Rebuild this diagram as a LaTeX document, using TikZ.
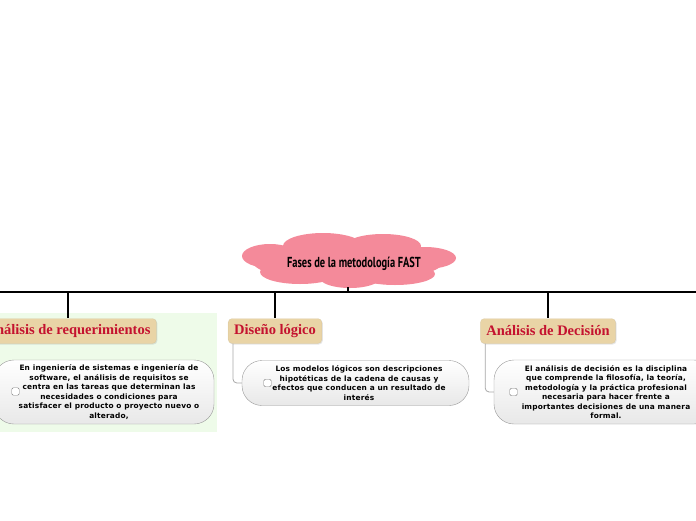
\documentclass[tikz,border=0pt]{standalone}
\usepackage{fontspec}
\setmainfont{Liberation Serif}
\newfontfamily\bodyfont[LetterSpace=2.5]{DejaVu Sans}
\newfontfamily\cloudfont{PT Sans}
\usetikzlibrary{positioning,shadows}
\definecolor{cloudpink}{HTML}{F48A9A}
\definecolor{tanbox}{HTML}{E9D4A6}
\definecolor{titlered}{HTML}{C4122F}
\definecolor{paleGreen}{HTML}{EEFBE9}
\tikzset{
  phase/.style={draw=tanbox!80!black, draw opacity=0.3, fill=tanbox, rounded corners=4pt,
    minimum height=25pt, inner xsep=6pt, font=\fontsize{14.5}{16}\selectfont\bfseries, text=titlered,
    drop shadow={opacity=0.2, shadow xshift=1pt, shadow yshift=-1pt}},
  note/.style={draw=gray!80, rounded corners=20pt, top color=white, bottom color=gray!18},
  notetext/.style={font=\bodyfont\bfseries\fontsize{7.4}{9.5}\selectfont, align=center},
  tick/.style={draw=gray, rounded corners=1.5pt, minimum size=7.5pt, inner sep=0pt, fill=white},
  link/.style={draw=gray!70, line width=0.8pt, rounded corners=4pt},
  trunk/.style={line width=1.6pt}
}
\begin{document}
\begin{tikzpicture}[x=1pt,y=-1pt]
  \useasboundingbox (0,0) rectangle (696,520);
  \fill[paleGreen] (0,313) rectangle (217,432);
  % cloud
  \begin{scope}[cloudpink]
    \fill (348,262) ellipse (95 and 20);
    \fill (323,246) ellipse (40 and 13);
    \fill (383,246) ellipse (38 and 12);
    \fill (270,256) ellipse (28 and 12);
    \fill (425,258) ellipse (31 and 11);
    \fill (300,272) ellipse (40 and 12);
    \fill (395,274) ellipse (40 and 11);
    \fill (350,278) ellipse (30 and 10);
  \end{scope}
  \node (root) at (354,264) {\cloudfont\bfseries\fontsize{14.5}{16}\selectfont\scalebox{0.72}[1]{Fases de la metodología FAST}};
  % trunk
  \coordinate (tl) at (0,292);
  \coordinate (tr) at (696,292);
  \draw[trunk] (tl) -- (tr);
  \draw[trunk] (348,287) -- (348,292);
  % phases
  \node[phase] (req) at (68,331) {Análisis de requerimientos};
  \node[phase] (dis) at (275,331) {Diseño lógico};
  \node[phase] (dec) at (548,331) {Análisis de Decisión};
  \foreach \n in {req,dis,dec}
    \draw[trunk] (\n.north |- tl) -- (\n.north);
  % notes
  \node[note, minimum width=220pt, minimum height=64pt] (reqtxt) at (104,392) {};
  \node[note, minimum width=227pt, minimum height=45pt] (distxt) at (355.5,383) {};
  \node[note, minimum width=220pt, minimum height=64pt] (dectxt) at (604,392) {};
  \node[notetext] at (109,392)
    {En ingeniería de sistemas e ingeniería de\\ software, el análisis de requisitos se\\ centra en las tareas que determinan las\\ necesidades o condiciones para\\ satisfacer el producto o proyecto nuevo o\\ alterado,};
  \node[notetext] at (359,383)
    {Los modelos lógicos son descripciones\\ hipotéticas de la cadena de causas y\\ efectos que conducen a un resultado de\\ interés};
  \node[notetext] at (606,392)
    {El análisis de decisión es la disciplina\\ que comprende la filosofía, la teoría,\\ metodología y la práctica profesional\\ necesaria para hacer frente a\\ importantes decisiones de una manera\\ formal.};
  \node[tick] (c1) at (15.5,391.5) {};
  \node[tick] (c2) at (267.5,383) {};
  \node[tick] (c3) at (513.5,392) {};
  % links
  \draw[link] ([xshift=5pt]dis.south west) |- (distxt.west);
  \draw[link] ([xshift=5pt]dec.south west) |- (dectxt.west);
\end{tikzpicture}
\end{document}
